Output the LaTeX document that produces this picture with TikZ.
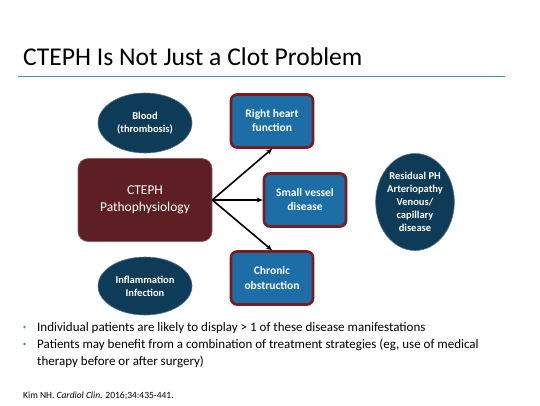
\documentclass[tikz,border=0pt]{standalone}
\usepackage{fontspec}
\setmainfont{Carlito}
\usetikzlibrary{shapes.geometric,arrows.meta}
\definecolor{navy}{HTML}{0E3B58}
\definecolor{boxblue}{HTML}{1D6EA6}
\definecolor{maroon}{HTML}{7A1C20}
\definecolor{darkmaroon}{HTML}{5E1F24}
\definecolor{teal}{HTML}{3E94AE}
\tikzset{
  oval/.style={ellipse, fill=navy, draw=navy!70!white, line width=0.6pt, text=white, font=\bfseries\fontsize{10.5}{13}\selectfont, align=center, inner sep=0pt},
  bluebox/.style={rectangle, rounded corners=6pt, fill=boxblue, draw=maroon, line width=2.6pt, text=white, font=\bfseries\fontsize{11.5}{14}\selectfont, align=center, minimum width=82pt, minimum height=53pt},
  mainbox/.style={rectangle, rounded corners=10pt, fill=darkmaroon, draw=darkmaroon!70!white, line width=0.6pt, text=white, font=\fontsize{13.5}{17}\selectfont, align=center, minimum width=134pt, minimum height=83pt},
  arr/.style={-{Stealth[length=6pt,width=5pt]}, line width=1.6pt, black},
  bul/.style={anchor=base west, font=\fontsize{13}{15}\selectfont, inner sep=0pt},
  dot/.style={circle, fill=teal, inner sep=0pt, minimum size=2.8pt}
}
\begin{document}
\begin{tikzpicture}[x=1pt,y=-1pt]
\useasboundingbox (0,0) rectangle (540,405);
\fill[white] (0,0) rectangle (540,405);
\node[anchor=base west, inner sep=0pt, font=\fontsize{25.6}{30}\selectfont] (title) at (23,65) {CTEPH Is Not Just a Clot Problem};
\draw[teal, line width=0.8pt] (18,76) -- (505,76);

\node[oval, minimum width=94pt, minimum height=60pt] (blood) at (145,123) {Blood\\(thrombosis)};
\node[oval, minimum width=94pt, minimum height=58pt] (infl) at (145,286) {Inflammation\\Infection};
\node[mainbox] (cteph) at (145,200) {CTEPH\\Pathophysiology};
\node[bluebox] (rh) at (272,121) {Right heart\\function};
\node[bluebox] (sv) at (305,200) {Small vessel\\disease};
\node[bluebox] (co) at (272,278) {Chronic\\obstruction};
\node[oval, minimum width=75pt, minimum height=97pt] (res) at (415,202) {Residual PH\\Arteriopathy\\Venous/\\capillary\\disease};

\coordinate (src) at (cteph.east);
\draw[arr] (src) -- (rh.south);
\draw[arr] (src) -- (sv.west);
\draw[arr] (src) -- (co.north);

\node[dot] (d1) at (24.5,327) {};
\node[bul] (b1) at (37,331) {Individual patients are likely to display > 1 of these disease manifestations};
\node[dot] (d2) at (24.5,344) {};
\node[bul] (b2) at (37,348) {Patients may benefit from a combination of treatment strategies (eg, use of medical};
\node[bul] (b3) at (37,365) {therapy before or after surgery)};
\node[anchor=base west, inner sep=0pt, font=\fontsize{9.5}{12}\selectfont] (ref) at (23,398) {Kim NH. \textit{Cardiol Clin}. 2016;34:435-441.};
\end{tikzpicture}
\end{document}
